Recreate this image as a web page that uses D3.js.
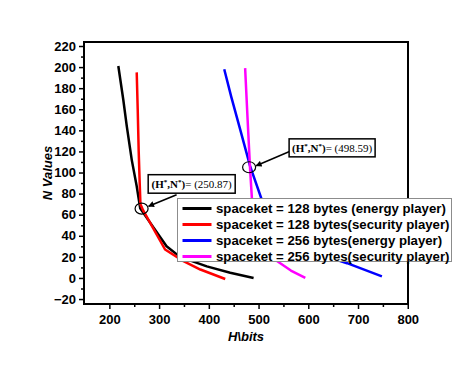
<!DOCTYPE html>
<html>
<head>
<meta charset="utf-8">
<style>
  body { margin: 0; background: #fff; }
  .axis .domain { display: none; }
  .axis text { font-family: "Liberation Sans", Arial, sans-serif; font-weight: bold; font-size: 13px; fill: #000; }
  .axis line { stroke: #000; stroke-width: 1.5px; }
</style>
</head>
<body>
<svg width="474" height="366"></svg>
<script src="https://cdn.jsdelivr.net/npm/d3@7/dist/d3.min.js"></script>
<script>
// series: H (bits) vs N values
var h128Energy   = [218, 228, 235, 245, 255, 262, 315, 342, 396, 443, 490];
var n128Energy   = [201, 169, 144, 112, 87, 66, 30, 20, 11, 5, 0];
var h128Security = [255, 257, 259, 261, 262.5, 268, 312, 349, 383, 433];
var n128Security = [195, 160, 120, 90, 70, 64, 27, 16, 8, -1];
var h256Energy   = [431, 445, 463, 483, 511, 545, 600, 678, 748];
var n256Energy   = [198, 172, 141, 106, 68, 42, 26, 14, 1.5];
var h256Security = [473, 478, 483, 488, 498, 515, 537, 565, 594];
var n256Security = [199, 150, 103, 65, 45, 28, 16, 7, 0];

var seriesNames = [
  "spaceket = 128 bytes (energy player)",
  "spaceket = 128 bytes(security player)",
  "spaceket = 256 bytes(energy player)",
  "spaceket = 256 bytes(security player)"
];
var seriesColors = ["#000000", "#ff0000", "#0000ff", "#ff00ff"];

var xTicks = [200, 300, 400, 500, 600, 700, 800];
var xMinor = [250, 350, 450, 550, 650, 750];
var yTicks = [-20, 0, 20, 40, 60, 80, 100, 120, 140, 160, 180, 200, 220];
var yMinor = [-10, 10, 30, 50, 70, 90, 110, 130, 150, 170, 190, 210];

// optimum points marked on the chart
var optH = [264.8, 481];
var optN = [65.7, 105];
var optLabels = ["(250.87)", "(498.59)"];

var svg = d3.select("svg"),
    margin = {top: 42, left: 84},
    width = 324,
    height = 262,
    g = svg.append("g").attr("transform", "translate(" + margin.left + "," + margin.top + ")");

var x = d3.scaleLinear().domain([149, 800.5]).range([0, width]);
var y = d3.scaleLinear().domain([-24.7, 223.8]).range([height, 0]);

// axes
g.append("g").attr("class", "axis")
    .attr("transform", "translate(0," + height + ")")
    .call(d3.axisBottom(x).tickValues(xMinor).tickSize(3).tickFormat(""));
g.append("g").attr("class", "axis")
    .attr("transform", "translate(0," + height + ")")
    .call(d3.axisBottom(x).tickValues(xTicks).tickSize(5).tickPadding(6));
g.append("g").attr("class", "axis")
    .call(d3.axisLeft(y).tickValues(yMinor).tickSize(3).tickFormat(""));
g.append("g").attr("class", "axis")
    .call(d3.axisLeft(y).tickValues(yTicks).tickSize(5).tickPadding(3));

// frame
g.append("rect")
    .attr("width", width)
    .attr("height", height)
    .attr("fill", "none")
    .attr("stroke", "#000")
    .attr("stroke-width", 2);

// axis titles
svg.append("text")
    .attr("transform", "translate(52," + (margin.top + height / 2) + ") rotate(-90)")
    .attr("text-anchor", "middle")
    .attr("font-family", "Liberation Sans, Arial, sans-serif")
    .attr("font-weight", "bold").attr("font-style", "italic")
    .attr("font-size", 13)
    .text("N Values");
svg.append("text")
    .attr("x", margin.left + width / 2)
    .attr("y", 341)
    .attr("text-anchor", "middle")
    .attr("font-family", "Liberation Sans, Arial, sans-serif")
    .attr("font-weight", "bold").attr("font-style", "italic")
    .attr("font-size", 13)
    .text("H\\bits");

// lines
var allH = [h128Energy, h128Security, h256Energy, h256Security];
var allN = [n128Energy, n128Security, n256Energy, n256Security];
var series = allH.map(function(hs, i) {
  return hs.map(function(h, j) { return [h, allN[i][j]]; });
});

var line = d3.line()
    .x(function(d) { return x(d[0]); })
    .y(function(d) { return y(d[1]); });

g.selectAll(".series")
  .data(series)
  .enter().append("path")
    .attr("class", "series")
    .attr("fill", "none")
    .attr("stroke", function(d, i) { return seriesColors[i]; })
    .attr("stroke-width", 2.5)
    .attr("stroke-linejoin", "round")
    .attr("d", line);

// optimum markers + callouts
var boxOffsets = [[6.6, -34, 87, 18.5], [40, -28.4, 86, 18]];
var arrowOffsets = [[35, -14, 7, -2.5], [41, -16, 7, -1.5]];

svg.append("defs").append("marker")
    .attr("id", "arrow")
    .attr("viewBox", "0 0 10 10")
    .attr("refX", 9).attr("refY", 5)
    .attr("markerWidth", 7).attr("markerHeight", 6)
    .attr("markerUnits", "userSpaceOnUse")
    .attr("orient", "auto")
  .append("path")
    .attr("d", "M0,0L10,5L0,10z")
    .attr("fill", "#000");

optH.forEach(function(h, i) {
  var cx = x(h), cy = y(optN[i]);
  g.append("ellipse")
      .attr("cx", cx).attr("cy", cy)
      .attr("rx", 6.5).attr("ry", 5.5)
      .attr("fill", "none")
      .attr("stroke", "#000")
      .attr("stroke-width", 1.2);

  var a = arrowOffsets[i];
  g.append("line")
      .attr("x1", cx + a[0]).attr("y1", cy + a[1])
      .attr("x2", cx + a[2]).attr("y2", cy + a[3])
      .attr("stroke", "#000")
      .attr("stroke-width", 1.5)
      .attr("marker-end", "url(#arrow)");

  var b = boxOffsets[i];
  g.append("rect")
      .attr("x", cx + b[0]).attr("y", cy + b[1])
      .attr("width", b[2]).attr("height", b[3])
      .attr("fill", "#fff")
      .attr("stroke", "#000")
      .attr("stroke-width", 1.5);

  var t = g.append("text")
      .attr("x", cx + b[0] + b[2] / 2)
      .attr("y", cy + b[1] + 13)
      .attr("text-anchor", "middle")
      .attr("font-family", "Liberation Serif, Times New Roman, serif")
      .attr("font-size", 11);
  t.append("tspan").attr("font-weight", "bold").text("(H");
  t.append("tspan").attr("font-weight", "bold").attr("font-size", 7).attr("dy", -4).text("*");
  t.append("tspan").attr("font-weight", "bold").attr("dy", 4).text(",N");
  t.append("tspan").attr("font-weight", "bold").attr("font-size", 7).attr("dy", -4).text("*");
  t.append("tspan").attr("font-weight", "bold").attr("dy", 4).text(")");
  t.append("tspan").text("= " + optLabels[i]);
});

// legend
var legend = svg.append("g").attr("transform", "translate(177.5,198.5)");
legend.append("rect")
    .attr("width", 274)
    .attr("height", 63)
    .attr("fill", "#fff")
    .attr("stroke", "#8c8c8c")
    .attr("stroke-width", 1);

var item = legend.selectAll(".item")
  .data(seriesNames)
  .enter().append("g")
    .attr("class", "item")
    .attr("transform", function(d, i) { return "translate(0," + (10 + i * 16) + ")"; });

item.append("line")
    .attr("x1", 5).attr("x2", 34)
    .attr("stroke", function(d, i) { return seriesColors[i]; })
    .attr("stroke-width", 3);

item.append("text")
    .attr("x", 38.5)
    .attr("dy", "0.35em")
    .attr("font-family", "Liberation Sans, Arial, sans-serif")
    .attr("font-weight", "bold")
    .attr("font-size", 13.2)
    .text(function(d) { return d; });
</script>
</body>
</html>
